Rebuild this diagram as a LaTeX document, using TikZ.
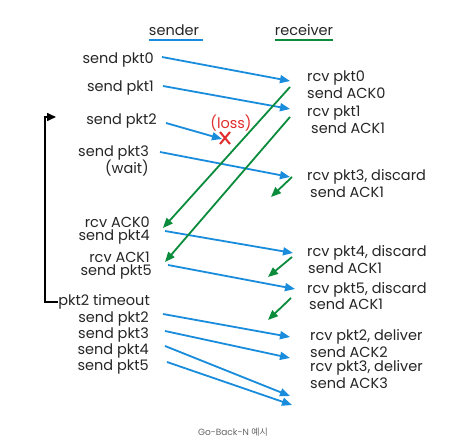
\documentclass[tikz,border=0pt]{standalone}
\usepackage{fontspec}
\setmainfont{Poppins}
\newfontfamily\krfont{Noto Sans CJK KR}
\usetikzlibrary{arrows.meta}
\definecolor{pblue}{RGB}{25,140,220}
\definecolor{pgreen}{RGB}{10,140,60}
\definecolor{pred}{RGB}{225,45,45}
\begin{document}
\begin{tikzpicture}[x=1pt,y=-1pt,
 lbl/.style={inner sep=0pt, font=\fontsize{14.5}{15}\selectfont, text=black!85},
 lft/.style={lbl, anchor=east},
 rgt/.style={lbl, anchor=west},
 pkt/.style={draw=pblue, line width=1.8pt, -{Triangle[length=10pt,width=8pt]}},
 ack/.style={draw=pgreen, line width=1.8pt, -{Triangle[length=10pt,width=8pt]}},
 brkt/.style={draw=black, line width=1.6pt, -{Triangle[length=9pt,width=8pt]}},
]
\path[use as bounding box, fill=white] (0,0) rectangle (474,444);

% headers
\node[lbl] (snd) at (174,30) {sender};
\node[lbl] (rcv) at (304,30) {receiver};
\draw[pblue, line width=2pt] ([yshift=-4pt]snd.south west) -- ([yshift=-4pt,xshift=4pt]snd.south east);
\draw[pgreen, line width=2pt] ([yshift=-4pt]rcv.south west) -- ([yshift=-4pt]rcv.south east);

% sender labels
\node[lft] (s0) at (154,60) {send pkt0};
\node[lft] (s1) at (154,88) {send pkt1};
\node[lft] (s2) at (157,121) {send pkt2};
\node[lft] (s3) at (149,153) {send pkt3};
\node[lft] (w3) at (149,168) {(wait)};
\node[lft] (a0) at (150,222) {rcv ACK0};
\node[lft] (s4) at (150,237) {send pkt4};
\node[lft] (a1) at (150,257) {rcv ACK1};
\node[lft] (s5) at (152,272) {send pkt5};
\node[lft] (tmo) at (150,302) {pkt2 timeout};
\node[lft] (r2) at (149,319) {send pkt2};
\node[lft] (r3) at (149,335) {send pkt3};
\node[lft] (r4) at (149,351) {send pkt4};
\node[lft] (r5) at (149,367) {send pkt5};

% receiver labels
\node[rgt] (p0) at (307,78) {rcv pkt0};
\node[rgt] (k0) at (307,93) {send ACK0};
\node[rgt] (p1) at (307,113) {rcv pkt1};
\node[rgt] (k1) at (311,128) {send ACK1};
\node[rgt] (p3) at (307,177) {rcv pkt3, discard};
\node[rgt] (k3) at (310,192) {send ACK1};
\node[rgt] (p4) at (307,253) {rcv pkt4, discard};
\node[rgt] (k4) at (308,268) {send ACK1};
\node[rgt] (p5) at (307,290) {rcv pkt5, discard};
\node[rgt] (k5) at (309,304) {send ACK1};
\node[rgt] (d2) at (310,337) {rcv pkt2, deliver};
\node[rgt] (e2) at (310,352) {send ACK2};
\node[rgt] (d3) at (310,368) {rcv pkt3, deliver};
\node[rgt] (e3) at (310,383) {send ACK3};

% loss
\node[lbl, text=pred] (loss) at (231,123) {(loss)};
\coordinate (lx) at (225,138);
\draw[pred, line width=2pt] ([shift={(-5,-6)}]lx) -- ([shift={(5,6)}]lx)
                            ([shift={(5,-6)}]lx) -- ([shift={(-5,6)}]lx);

% blue packet arrows
\coordinate (b0s) at (162,57);  \coordinate (b0e) at (290,81);
\coordinate (b1s) at (163,86);  \coordinate (b1e) at (290,109);
\coordinate (b2s) at (166,123); \coordinate (b2e) at (222,139);
\coordinate (b3s) at (160,152); \coordinate (b3e) at (290,177);
\coordinate (b4s) at (165,231); \coordinate (b4e) at (293,253);
\coordinate (b5s) at (168,265); \coordinate (b5e) at (295,289);
\coordinate (c2s) at (163,314); \coordinate (c2e) at (290,337);
\coordinate (c3s) at (165,331); \coordinate (c3e) at (290,358);
\coordinate (c4s) at (165,346); \coordinate (c4e) at (290,396);
\coordinate (c5s) at (167,362); \coordinate (c5e) at (292,405);
\foreach \a/\b in {b0s/b0e,b1s/b1e,b2s/b2e,b3s/b3e,b4s/b4e,b5s/b5e,c2s/c2e,c3s/c3e,c4s/c4e,c5s/c5e}
  \draw[pkt] (\a) -- (\b);

% green ack arrows
\coordinate (g0s) at (290,87);  \coordinate (g0e) at (163,228);
\coordinate (g1s) at (290,117); \coordinate (g1e) at (165,262);
\coordinate (g3s) at (292,177); \coordinate (g3e) at (271,197);
\coordinate (g4s) at (292,257); \coordinate (g4e) at (268,277);
\coordinate (g5s) at (291,298); \coordinate (g5e) at (268,320);
\foreach \a/\b in {g0s/g0e,g1s/g1e,g3s/g3e,g4s/g4e,g5s/g5e}
  \draw[ack] (\a) -- (\b);

% timeout bracket
\coordinate (brk) at (56,117);
\draw[brkt] (tmo.west) -- ([xshift=-13pt]tmo.west) |- (brk);

% caption
\node[inner sep=0pt, font=\fontsize{9}{10}\selectfont, text=black!60] (cap) at (233,432) {Go-Back-N {\krfont 예시}};
\end{tikzpicture}
\end{document}
